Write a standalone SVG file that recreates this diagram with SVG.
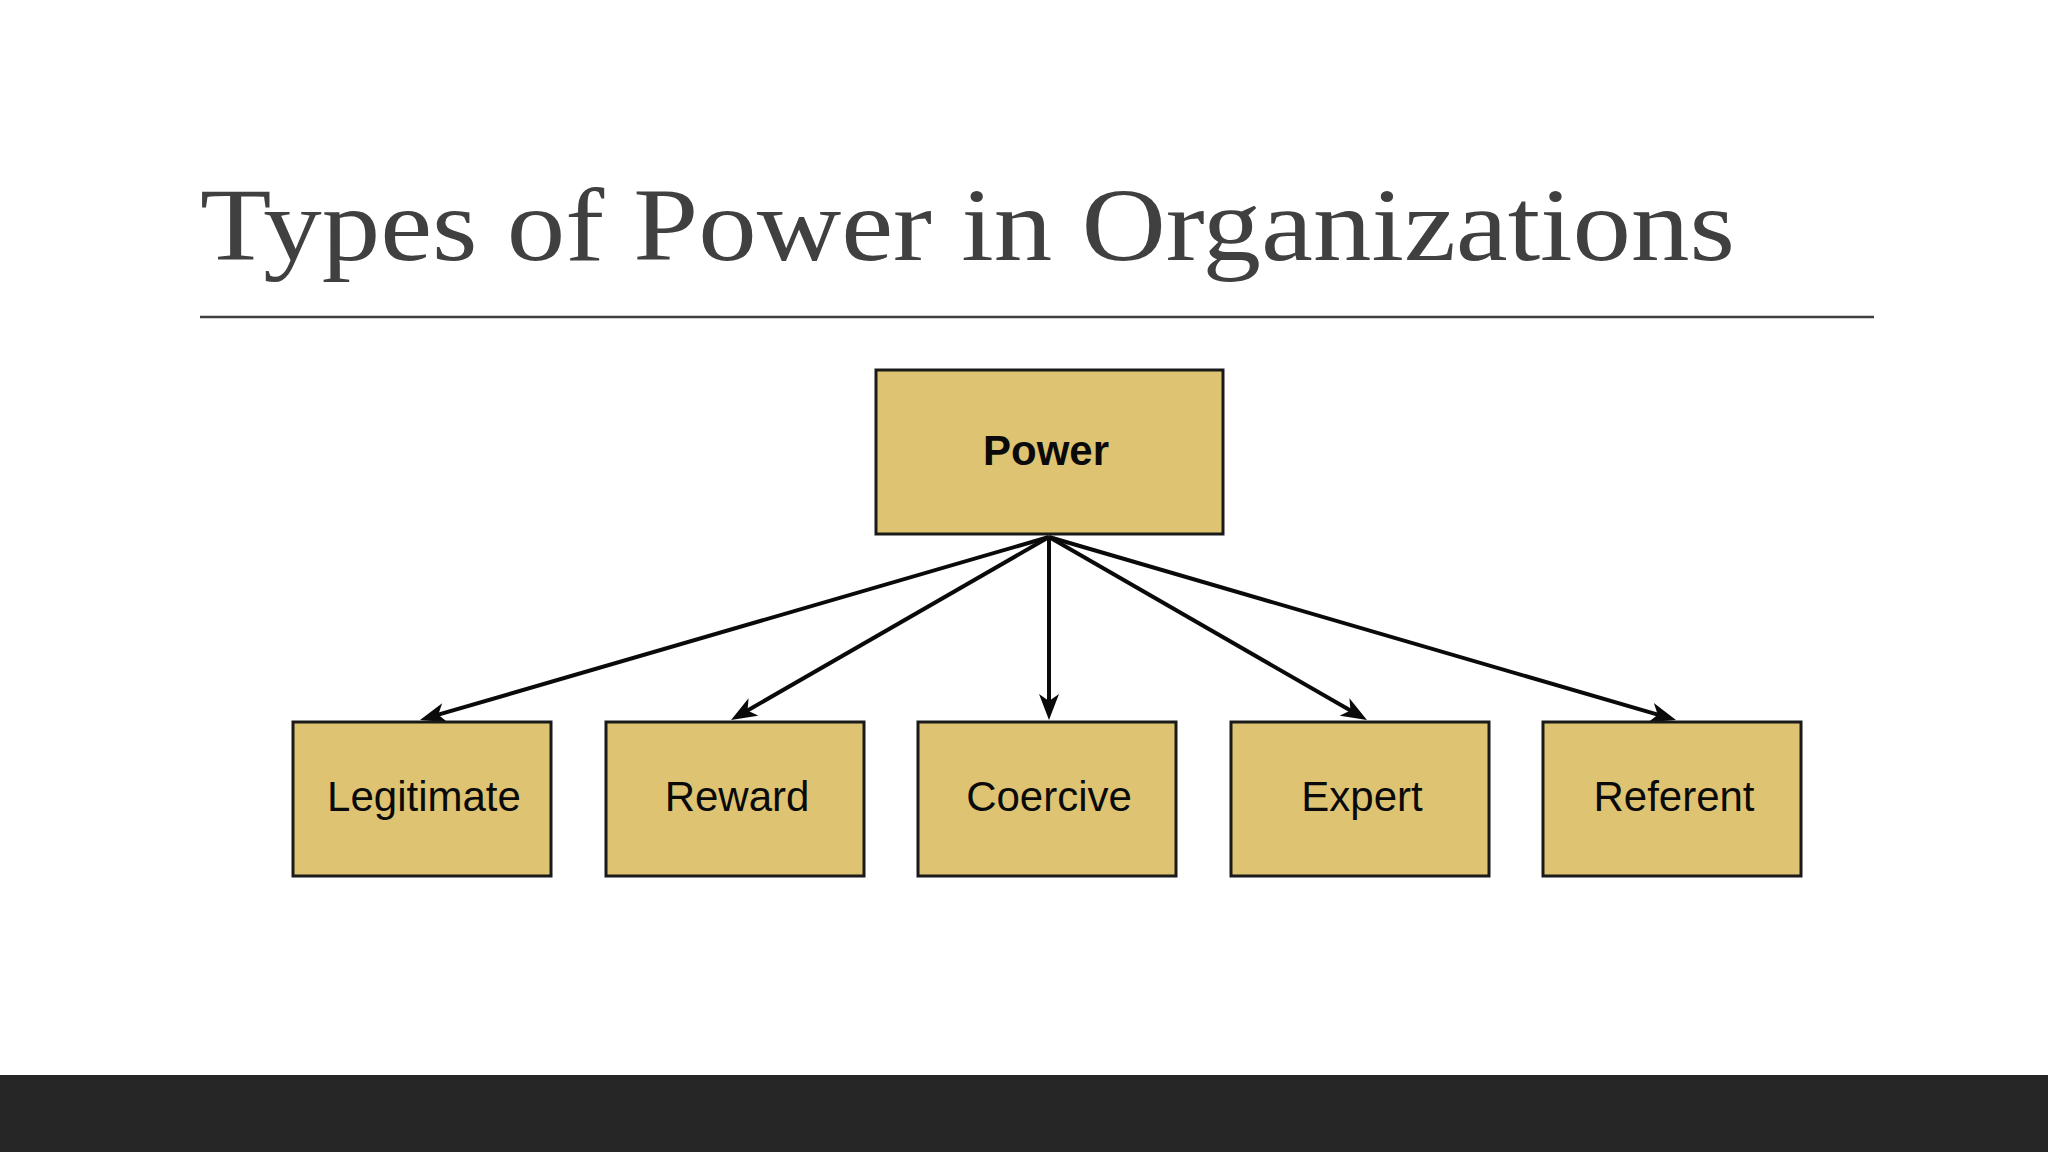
<svg xmlns="http://www.w3.org/2000/svg" width="2048" height="1152" viewBox="0 0 2048 1152">
  <defs>
    <style>
      .title { font-family: "Liberation Serif", "Times New Roman", serif; font-size: 104px; fill: #404040; }
      .box { fill: #DEC472; stroke: #1a1a1a; stroke-width: 3; }
      .lbl { font-family: "Liberation Sans", Arial, sans-serif; font-size: 42px; fill: #0a0a0a; text-anchor: middle; }
      .root { font-weight: bold; }
      .conn { stroke: #0a0a0a; stroke-width: 4; fill: none; marker-end: url(#arrow); }
    </style>
    <marker id="arrow" viewBox="0 0 26 20" refX="16" refY="10" markerWidth="26" markerHeight="20" markerUnits="userSpaceOnUse" orient="auto">
      <path d="M0,0 L26,10 L0,20 L7,10 z" fill="#0a0a0a"/>
    </marker>
  </defs>
  <rect width="2048" height="1152" fill="#ffffff"/>
  <text class="title" x="200" y="260" textLength="1535" lengthAdjust="spacingAndGlyphs">Types of Power in Organizations</text>
  <line x1="200" y1="317" x2="1874" y2="317" stroke="#404040" stroke-width="2.5"/>

  <g id="connectors">
    <line class="conn" x1="1049" y1="537" x2="429.6" y2="717.2"/>
    <line class="conn" x1="1049" y1="537" x2="739.7" y2="715"/>
    <line class="conn" x1="1049" y1="537" x2="1049" y2="710"/>
    <line class="conn" x1="1049" y1="537" x2="1358.3" y2="715"/>
    <line class="conn" x1="1049" y1="537" x2="1666.4" y2="717.2"/>
  </g>

  <g id="node-power">
    <rect class="box" x="876" y="370" width="347" height="164"/>
    <text class="lbl root" x="1046" y="465">Power</text>
  </g>
  <g id="node-legitimate">
    <rect class="box" x="293" y="722" width="258" height="154"/>
    <text class="lbl" x="424" y="811">Legitimate</text>
  </g>
  <g id="node-reward">
    <rect class="box" x="606" y="722" width="258" height="154"/>
    <text class="lbl" x="737" y="811">Reward</text>
  </g>
  <g id="node-coercive">
    <rect class="box" x="918" y="722" width="258" height="154"/>
    <text class="lbl" x="1049" y="811">Coercive</text>
  </g>
  <g id="node-expert">
    <rect class="box" x="1231" y="722" width="258" height="154"/>
    <text class="lbl" x="1362" y="811">Expert</text>
  </g>
  <g id="node-referent">
    <rect class="box" x="1543" y="722" width="258" height="154"/>
    <text class="lbl" x="1674" y="811">Referent</text>
  </g>

  <rect x="0" y="1075" width="2048" height="77" fill="#262626"/>
</svg>
